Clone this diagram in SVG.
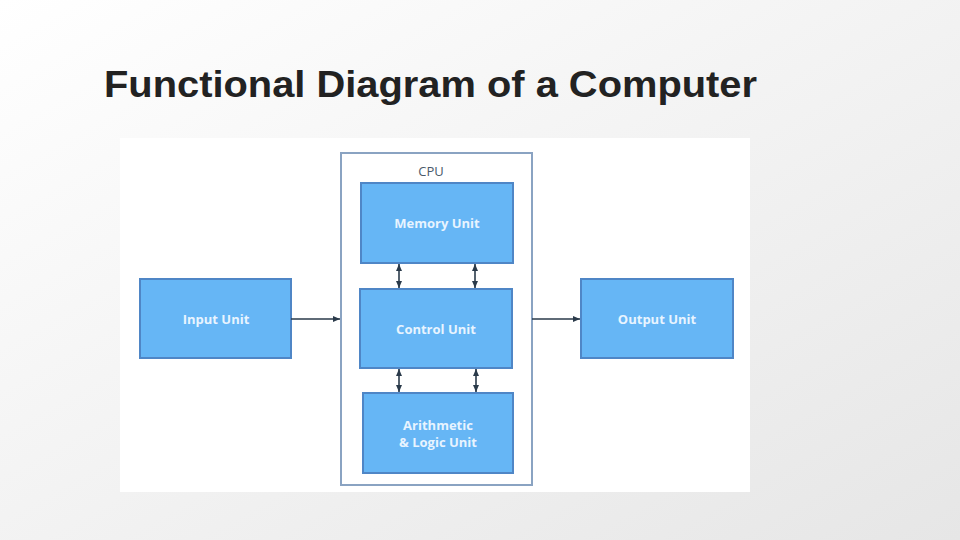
<svg xmlns="http://www.w3.org/2000/svg" width="960" height="540" viewBox="0 0 960 540">
<defs>
<linearGradient id="bg" x1="0" y1="0" x2="1" y2="1"><stop offset="0" stop-color="#ffffff"/><stop offset="1" stop-color="#e6e6e6"/></linearGradient>
<marker id="ah" markerWidth="8" markerHeight="8" refX="7" refY="4" orient="auto-start-reverse" markerUnits="userSpaceOnUse"><path d="M0,1 L7,4 L0,7 Z" fill="#2a3a4a"/></marker>
<style>
.box{fill:#66b6f5;stroke:#4f86c6;stroke-width:2}
.lbl{font-family:"Open Sans","Liberation Sans",sans-serif;font-size:13px;fill:#e8f4ff;text-anchor:middle;font-weight:bold}
.con{stroke:#2a3a4a;stroke-width:1.6;fill:none;marker-end:url(#ah)}
.bi{marker-start:url(#ah)}
</style>
</defs>
<rect width="960" height="540" fill="url(#bg)"/>
<text x="104" y="97" font-family="Liberation Sans,Arial,sans-serif" font-weight="bold" font-size="36" textLength="653" lengthAdjust="spacingAndGlyphs" fill="#222">Functional Diagram of a Computer</text>
<rect x="120" y="138" width="630" height="354" fill="#ffffff"/>
<g id="cpu"><rect x="341" y="153" width="191" height="332" fill="#fff" stroke="#8aa3c2" stroke-width="2"/>
<text x="431" y="176" font-family="Open Sans,Liberation Sans,sans-serif" font-size="13" fill="#4a5a6a" text-anchor="middle">CPU</text></g>
<g id="memory"><rect class="box" x="361" y="183" width="152" height="80"/><text class="lbl" x="437" y="228">Memory Unit</text></g>
<g id="control"><rect class="box" x="360" y="289" width="152" height="79"/><text class="lbl" x="436" y="334">Control Unit</text></g>
<g id="alu"><rect class="box" x="363" y="393" width="150" height="80"/><text class="lbl" x="438" y="430">Arithmetic</text><text class="lbl" x="438" y="447">&amp; Logic Unit</text></g>
<g id="input"><rect class="box" x="140" y="279" width="151" height="79"/><text class="lbl" x="216" y="324">Input Unit</text></g>
<g id="output"><rect class="box" x="581" y="279" width="152" height="79"/><text class="lbl" x="657" y="324">Output Unit</text></g>
<g id="connectors">
<line class="con" x1="291" y1="319" x2="340" y2="319"/>
<line class="con" x1="532" y1="319" x2="580" y2="319"/>
<line class="con bi" x1="399" y1="264" x2="399" y2="288"/>
<line class="con bi" x1="475" y1="264" x2="475" y2="288"/>
<line class="con bi" x1="399" y1="369" x2="399" y2="392"/>
<line class="con bi" x1="476" y1="369" x2="476" y2="392"/>
</g>
</svg>
